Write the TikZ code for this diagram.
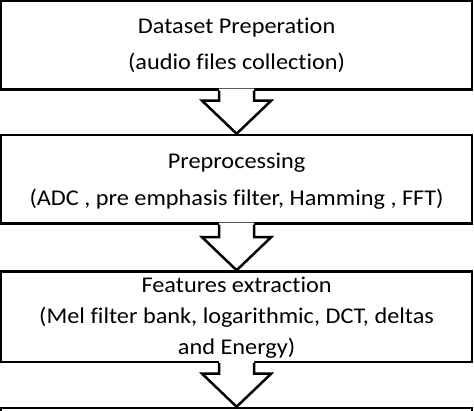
\documentclass[tikz,border=0pt]{standalone}
\usepackage{fontspec}
\setmainfont{Carlito}[Ligatures=CommonOff, FakeStretch=1.08]
\usetikzlibrary{calc}
\tikzset{
  stagebox/.style={draw=black, line width=2.5pt, fill=white, rectangle, minimum width=471.2pt, inner sep=0pt},
  txt/.style={font=\fontsize{22.5}{27}\selectfont, text=black, inner sep=0pt, anchor=base},
  arrowline/.style={draw=black, line width=2.5pt, line join=miter, miter limit=10},
}
\newcommand{\blockarrow}[2]{%
  \fill[white] let \p1=(#1.south), \p2=(#2.north) in
    (\x1-17.5pt,\y1+2pt) -- (\x1-17.5pt,\y2+33pt) -- (\x1-34.5pt,\y2+33pt) -- (\x1,\y2)
    -- (\x1+34.5pt,\y2+33pt) -- (\x1+17.5pt,\y2+33pt) -- (\x1+17.5pt,\y1+2pt) -- cycle;
  \draw[arrowline] let \p1=(#1.south), \p2=(#2.north) in
    (\x1-17.5pt,\y1) -- (\x1-17.5pt,\y2+33pt) -- (\x1-34.5pt,\y2+33pt) -- (\x1,\y2)
    -- (\x1+34.5pt,\y2+33pt) -- (\x1+17.5pt,\y2+33pt) -- (\x1+17.5pt,\y1);
}
\begin{document}
\begin{tikzpicture}[x=1pt,y=1pt]
\useasboundingbox (0,0) rectangle (474,411);
\clip (0,0) rectangle (474,411);
\fill[white] (0,0) rectangle (474,411);
% boxes
\node[stagebox, minimum height=88.5pt] (b1) at (236.6,365.75) {};
\node[stagebox, minimum height=88.3pt] (b2) at (236.6,231.85) {};
\node[stagebox, minimum height=90.5pt] (b3) at (236.6,94.25) {};
\node[stagebox, minimum height=60pt] (b4) at (236.6,-27) {};
% texts
\node[txt] (t1a) at (236.6,411-33.3) {Dataset Preperation};
\node[txt] (t1b) at (236.6,411-70) {(audio files collection)};
\node[txt] (t2a) at (236.6,411-168.3) {Preprocessing};
\node[txt] (t2b) at (236.6,411-205.5) {(ADC , pre emphasis filter, Hamming , FFT)};
\node[txt] (t3a) at (236.6,411-292.3) {Features extraction};
\node[txt] (t3b) at (236.6,411-324) {(Mel filter bank, logarithmic, DCT, deltas};
\node[txt] (t3c) at (236.6,411-355) {and Energy)};
% arrows
\blockarrow{b1}{b2}
\blockarrow{b2}{b3}
\blockarrow{b3}{b4}
\end{tikzpicture}
\end{document}
